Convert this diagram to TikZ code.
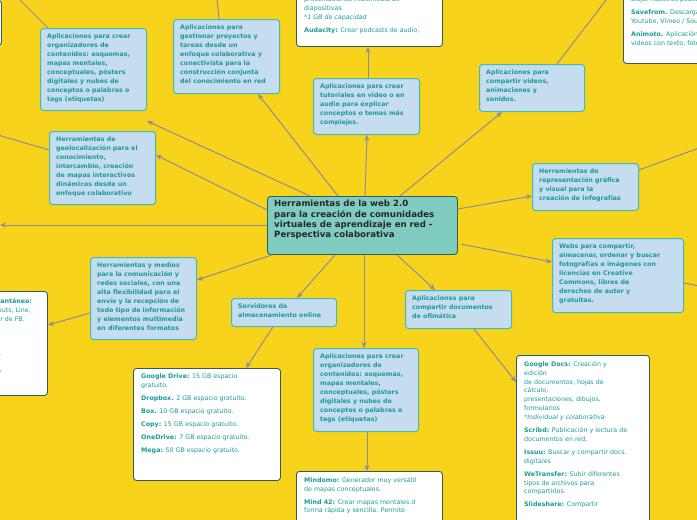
\documentclass[tikz,border=0pt]{standalone}
\usepackage{fontspec}
\setmainfont{DejaVu Sans}
\usetikzlibrary{arrows.meta}
\definecolor{bgy}{HTML}{F8D31C}
\definecolor{bfill}{HTML}{C5DDEF}
\definecolor{bedge}{HTML}{3DBDB5}
\definecolor{btext}{HTML}{1A9A9A}
\definecolor{cfill}{HTML}{7FCDC0}
\definecolor{dedge}{HTML}{2F5F5A}
\definecolor{conn}{HTML}{8C8C9A}
\tikzset{
 bbox/.style={draw=bedge,line width=1pt,fill=bfill,rounded corners=3pt,anchor=north west,inner sep=0pt},
 wbox/.style={draw=dedge,line width=0.9pt,fill=white,rounded corners=3pt,anchor=north west,inner sep=0pt},
 cbox/.style={draw=dedge,line width=0.9pt,fill=cfill,rounded corners=3pt,anchor=north west,inner sep=0pt},
 wtxt/.style={anchor=north west,inner sep=0pt,text=btext,font=\fontsize{6.3}{8.9}\selectfont,align=left},
 btxt/.style={anchor=north west,inner sep=0pt,text=btext,font=\fontsize{6.3}{8.9}\selectfont\bfseries,align=left},
 con/.style={draw=conn,line width=1pt,-{Stealth[length=6pt,width=5pt]}},
 conl/.style={draw=conn,line width=1pt},
}
\newcommand{\tb}[1]{\textbf{#1}}
\begin{document}
\begin{tikzpicture}[x=1pt,y=-1pt]
\useasboundingbox (0,0) rectangle (697,520);
\fill[bgy] (0,0) rectangle (697,520);
\clip (0,0) rectangle (697,520);
% white boxes
\node[wbox,minimum width=146,minimum height=56] (w1) at (296,-10) {};
\node[wtxt] (w1t) at (304,-3) {presentaciones multimedia de\\diapositivas\\\textit{*1 GB de capacidad}\\[4pt]\tb{Audacity:} Crear podcasts de audio,};
\node[wbox,minimum width=120,minimum height=73] (w2) at (623,-10) {};
\node[wtxt] (w2t) at (631,-3) {alojar nuestros podcasts\\[4pt]\tb{Savefrom.} Descargar videos de\\Youtube, Vimeo / SoundCloud\\[4pt]\tb{Animoto.} Aplicación para crear\\videos con texto, fotos};
\node[wbox,minimum width=100,minimum height=45] (w0) at (-99,0) {};
\node[wbox,minimum width=107,minimum height=104] (w3) at (-60,291) {};
\node[anchor=north east,inner sep=0pt,text=btext,font=\fontsize{6.3}{8.9}\selectfont,align=left] (w3t) at (32,298) {\tb{Mensajería instantánea:}\\Whatsapp, Hangouts, Line,\\Skype, Messenger de FB.\\[4pt]Correo: Gmail,\\Outlook\\[4pt]Redes: Facebook,\\Twitter, Social\\Edmodo para uso};
\node[wbox,minimum width=147,minimum height=112] (w4) at (133,368) {};
\node[wtxt] at (141,374) {\tb{Google Drive:} 15 GB espacio\\gratuito.\\[4pt]\tb{Dropbox.} 2 GB espacio gratuito.\\[4pt]\tb{Box.} 10 GB espacio gratuito.\\[4pt]\tb{Copy:} 15 GB espacio gratuito.\\[4pt]\tb{OneDrive:} 7 GB espacio gratuito.\\[4pt]\tb{Mega:} 50 GB espacio gratuito.};
\node[wbox,minimum width=133,minimum height=180] (w5) at (516,355) {};
\node[wtxt] at (524,361) {\tb{Google Docs:} Creación y\\edición\\de documentos, hojas de\\cálculo,\\presentaciones, dibujos,\\formularios\\\textit{*Individual y colaborativa}\\[4pt]\tb{Scribd:} Publicación y lectura de\\documentos en red.\\[4pt]\tb{Issuu:} Buscar y compartir docs.\\digitales\\[4pt]\tb{WeTransfer:} Subir diferentes\\tipos de archivos para\\compartirlos.\\[4pt]\tb{Slideshare:} Compartir};
\node[wbox,minimum width=146,minimum height=70] (w6) at (296,471) {};
\node[wtxt] at (304,477) {\tb{Mindomo:} Generador muy versátil\\de mapas conceptuales.\\[4pt]\tb{Mind 42:} Crear mapas mentales d\\forma rápida y sencilla. Permite};
% central
\node[cbox,minimum width=190,minimum height=58] (c) at (267,196) {};
\node[anchor=north west,inner sep=0pt,text=black!85,font=\fontsize{8.6}{10.4}\selectfont\bfseries,align=left] at (274,200) {Herramientas de la web 2.0\\para la creación de comunidades\\virtuales de aprendizaje en red -\\Perspectiva colaborativa};
% blue boxes
\newcommand{\bb}[6]{\node[bbox,minimum width=#3,minimum height=#4] (#1) at #2 {};
 \node[btxt] at #5 {#6};}
\bb{b1}{(40,28)}{106}{82}{(47,34)}{Aplicaciones para crear\\organizadores de\\contenidos: esquemas,\\mapas mentales,\\conceptuales, pósters\\digitales y nubes de\\conceptos o palabras o\\tags (etiquetas)}
\bb{b2}{(173,19)}{106}{74}{(180,25)}{Aplicaciones para\\gestionar proyectos y\\tareas desde un\\enfoque colaborativa y\\conectivista para la\\construcción conjunta\\del conocimiento en red}
\bb{b3}{(313,78)}{106}{56}{(320,84)}{Aplicaciones para crear\\tutoriales en video o en\\audio para explicar\\conceptos o temas más\\complejos.}
\bb{b4}{(479,64)}{105}{47}{(486,70)}{Aplicaciones para\\compartir videos,\\animaciones y\\sonidos.}
\bb{b5}{(49,131)}{106}{73}{(56,137)}{Herramientas de\\geolocalización para el\\conocimiento,\\intercambio, creación\\de mapas interactivos\\dinámicos desde un\\enfoque colaborativo}
\bb{b6}{(532,163)}{106}{47}{(539,169)}{Herramientas de\\representación gráfica\\y visual para la\\creación de infografías}
\bb{b7}{(552,238)}{131}{74}{(559,244)}{Webs para compartir,\\almacenar, ordenar y buscar\\fotografías e imágenes con\\licencias en Creative\\Commons, libres de\\derechos de autor y\\gratuitas.}
\bb{b8}{(90,257)}{106}{82}{(97,263)}{Herramientas y medios\\para la comunicación y\\redes sociales, con una\\alta flexibilidad para el\\envío y la recepción de\\todo tipo de información\\y elementos multimedia\\en diferentes formatos}
\bb{b9}{(231,298)}{105}{28}{(238,304)}{Servidores de\\almacenamiento online}
\bb{b10}{(405,290)}{106}{38}{(412,296)}{Aplicaciones para\\compartir documentos\\de ofimática}
\bb{b11}{(313,348)}{105}{83}{(320,354)}{Aplicaciones para crear\\organizadores de\\contenidos: esquemas,\\mapas mentales,\\conceptuales, pósters\\digitales y nubes de\\conceptos o palabras o\\tags (etiquetas)}
% free ends
\coordinate (e1) at (18,-2);
\coordinate (e2) at (217,-2);
\coordinate (e5) at (-2,135);
\coordinate (e6) at (699,148);
\coordinate (e7) at (699,286);
\coordinate (e0) at (0,225);
% connectors
\draw[con] ([xshift=43]c.north west) -- ([yshift=-10]b1.south east);
\draw[con] ([xshift=71]c.north west) -- ([xshift=-22]b2.south east);
\draw[con] ([xshift=98]c.north west) -- ([xshift=-53]b3.south east);
\draw[con] ([xshift=133]c.north west) -- ([xshift=23]b4.south west);
\draw[con] ([yshift=-14]c.north west) -- ([yshift=-24]b5.north east);
\draw[con] ([yshift=-13]c.north east) -- ([yshift=-33]b6.north west);
\draw[con] ([xshift=3,yshift=-48]c.north east) -- ([yshift=-24]b7.north west);
\draw[con] ([xshift=5]c.south west) -- ([yshift=-23]b8.north east);
\draw[con] ([xshift=68]c.south west) -- ([xshift=66]b9.north west);
\draw[con] ([xshift=97]c.south west) -- ([xshift=51]b11.north west);
\draw[con] ([xshift=130]c.south west) -- ([xshift=30]b10.north west);
\draw[con] ([yshift=-29]c.north west) -- (e0);
\draw[conl] ([xshift=8]b1.north west) -- (e1);
\draw[conl] ([xshift=46]b2.north west) -- (e2);
\draw[conl] ([yshift=-19]b5.north west) -- (e5);
\draw[conl] ([yshift=-7]b6.north east) -- (e6);
\draw[conl] ([yshift=-45]b7.north east) -- (e7);
\draw[con] ([xshift=55]b3.north west) -- ([xshift=72]w1.south west);
\draw[con] ([xshift=78]b4.north west) -- ([yshift=12]w2.north west);
\draw[con] ([yshift=-56]b8.north west) -- ([yshift=-34]w3.north east);
\draw[con] ([xshift=42]b9.south west) -- ([xshift=113]w4.north west);
\draw[con] ([xshift=69]b10.south west) -- ([yshift=-27]w5.north west);
\draw[con] ([xshift=54]b11.south west) -- ([xshift=71]w6.north west);
\end{tikzpicture}
\end{document}
